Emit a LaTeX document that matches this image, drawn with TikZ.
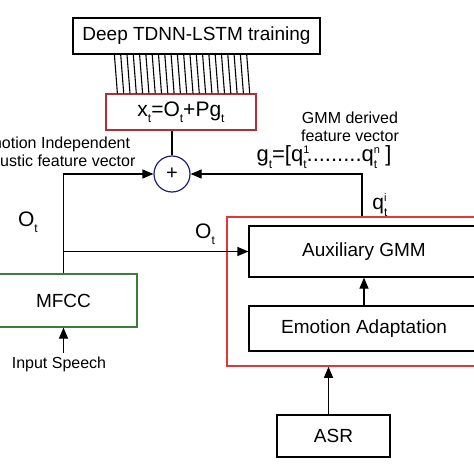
\documentclass[tikz,border=0pt]{standalone}
\usepackage{fontspec}
\setmainfont{Liberation Sans}
\usetikzlibrary{arrows.meta,calc}
\definecolor{darkred}{RGB}{180,45,55}
\definecolor{brightred}{RGB}{225,55,55}
\definecolor{darkgreen}{RGB}{60,125,60}
\definecolor{navyc}{RGB}{30,30,130}
\newcommand\lsub[1]{\raisebox{-0.3em}{\fontsize{12}{12}\selectfont #1}}
\newcommand\supsub[3]{\rlap{\raisebox{0.38em}{\fontsize{11}{11}\selectfont #1}}\raisebox{-0.3em}{\fontsize{12}{12}\selectfont #2}\hspace{#3}}
\begin{document}
\begin{tikzpicture}[x=1pt,y=-1pt,
  ln/.style={line width=1.2pt},
  arr/.style={line width=1.2pt,-{Triangle[length=11pt,width=9pt]}},
  blk/.style={draw=black,line width=1.2pt,inner sep=0pt,font=\fontsize{19}{19}\selectfont},
  lab/.style={inner sep=1pt,font=\fontsize{21}{21}\selectfont}]
\useasboundingbox (0,0) rectangle (474,474);
\node[blk,minimum width=247pt,minimum height=36pt] (tdnn) at (196.5,36) {Deep TDNN-LSTM training};
\node[blk,draw=darkred,minimum width=150pt,minimum height=36pt,font=\fontsize{21}{21}\selectfont] (xb) at (181,112) {x\lsub{t}=O\lsub{t}+Pg\lsub{t}};
\foreach \i in {0,...,21}
  \draw[line width=1.1pt] ([xshift=42pt+\i*6.3pt]tdnn.south west) -- ([xshift=12pt+\i*6.3pt]xb.north west);
\node[circle,draw=navyc,line width=1.2pt,minimum size=36pt,inner sep=0pt,font=\fontsize{20}{20}\selectfont] (sum) at (172,174) {+};
\draw[ln] (sum.north |- xb.south) -- (sum.north);
\node[align=center,font=\fontsize{16}{18}\selectfont] (lt) at (54,152) {Emotion Independent\\Acoustic feature vector};
\node[blk,draw=darkgreen,minimum width=147pt,minimum height=53pt] (mfcc) at (63.5,300.5) {MFCC};
\node[font=\fontsize{16}{16}\selectfont] (inp) at (59,364) {Input Speech};
\draw[arr] (inp.north -| mfcc.south) -- (mfcc.south);
\node[draw=brightred,line width=1.5pt,minimum width=263pt,minimum height=149pt,inner sep=0pt] (red) at (358.5,291.5) {};
\node[blk,minimum width=230pt,minimum height=51pt] (aux) at (364,251.5) {Auxiliary GMM};
\node[blk,minimum width=230pt,minimum height=45pt] (emo) at (364,328.5) {Emotion Adaptation};
\draw[arr] (emo.north) -- (aux.south);
\node[blk,minimum width=113pt,minimum height=42pt] (asr) at (333.5,436) {ASR};
\draw[arr] ([xshift=-5pt]asr.north) -- ([xshift=-5pt]asr.north |- red.south);
\coordinate (j1) at (mfcc.north |- sum.west);
\draw[arr] (mfcc.north) -- (j1) -- (sum.west);
\coordinate (j2) at (mfcc.north |- aux.west);
\draw[arr] (j2) -- (aux.west);
\coordinate (fb) at ([xshift=3.5pt]red.north);
\coordinate (fbt) at (fb |- sum.east);
\draw[arr] (fb) -- (fbt) -- (sum.east);
\node[lab] (ol) at (28,222) {O\lsub{t}};
\node[lab] (om) at (205,234) {O\lsub{t}};
\node[lab] (q) at (380,205) {q\supsub{i}{t}{0pt}};
\node[lab,font=\fontsize{22}{22}\selectfont] (g) at (324,157) {g\lsub{t}=[q\supsub{1}{t}{0pt}.........q\supsub{n}{t}{2pt} ]};
\node[align=center,font=\fontsize{16}{18}\selectfont] (gd) at (350,127) {GMM derived\\feature vector};
\end{tikzpicture}
\end{document}
